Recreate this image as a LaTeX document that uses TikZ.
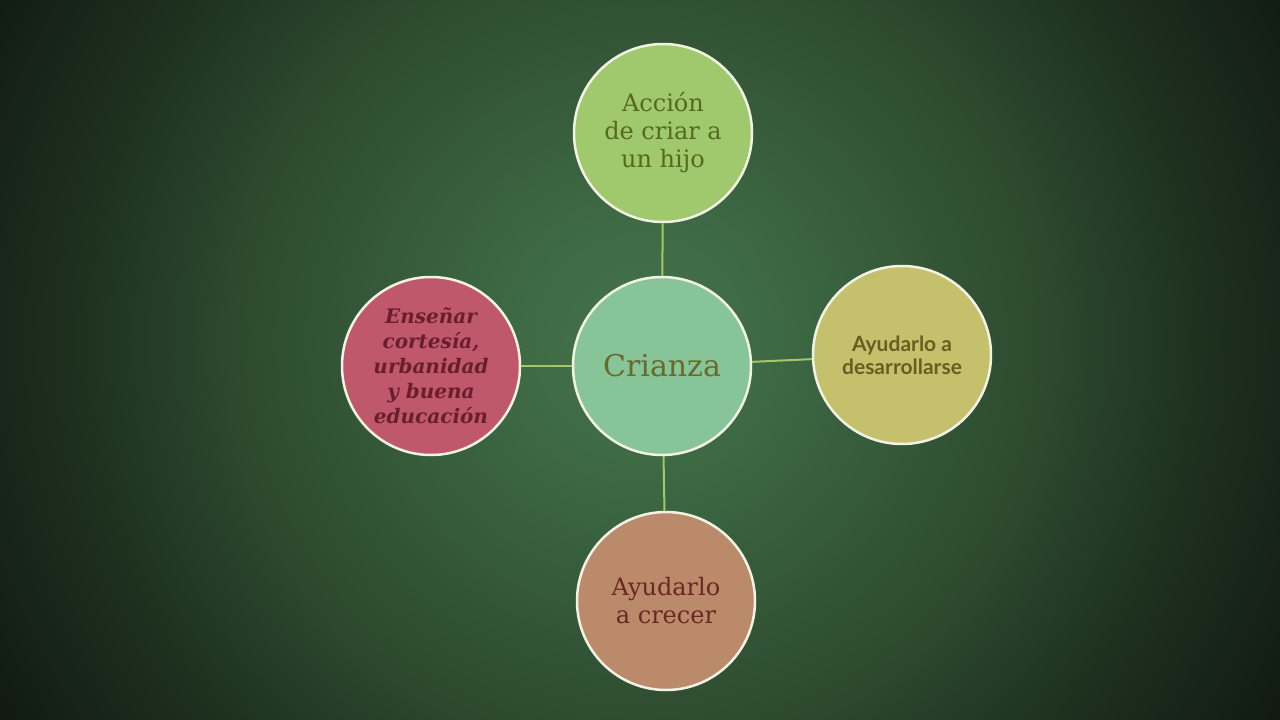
\documentclass[tikz,border=0pt]{standalone}
\usepackage{fontspec}
\setmainfont{DejaVu Serif}
\newfontfamily\sansf{Lato}
\definecolor{bg0}{HTML}{45744B}
\definecolor{bg1}{HTML}{3C6742}
\definecolor{bg2}{HTML}{2D4A2F}
\definecolor{bg3}{HTML}{1E311F}
\definecolor{bg4}{HTML}{111B11}
\definecolor{rimc}{HTML}{F2F2E4}
\definecolor{linkc}{HTML}{A4C66C}
\definecolor{topF}{HTML}{A0C86C}
\definecolor{topT}{HTML}{55691F}
\definecolor{midF}{HTML}{87C498}
\definecolor{midT}{HTML}{686A2C}
\definecolor{rgtF}{HTML}{C4C06C}
\definecolor{rgtT}{HTML}{665F22}
\definecolor{botF}{HTML}{BA8A6B}
\definecolor{botT}{HTML}{6A2820}
\definecolor{lftF}{HTML}{C0586B}
\definecolor{lftT}{HTML}{6A1E2C}
\pgfdeclareradialshading{bgshade}{\pgfpoint{0bp}{0bp}}{color(0bp)=(bg0); color(4.7bp)=(bg1); color(12.5bp)=(bg2); color(17.5bp)=(bg3); color(23bp)=(bg4); color(50bp)=(bg4)}
\begin{document}
\begin{tikzpicture}[x=1pt,y=-1pt,
  bubble/.style={circle, draw=rimc, line width=2.5pt, minimum size=178pt, inner sep=0pt, align=center},
  link/.style={draw=linkc, line width=2pt}]
\useasboundingbox (0,0) rectangle (1280,720);
\begin{scope}
\clip (0,0) rectangle (1280,720);
\shade[shading=bgshade] (-160,-460) rectangle (1440,1140);
\end{scope}
\node[bubble, fill=midF, text=midT, font=\fontsize{30}{34}\selectfont] (mid) at (662,366) {Crianza};
\node[bubble, fill=topF, text=topT, font=\fontsize{24}{28}\selectfont] (top) at (663,133) {Acción\\de criar a\\un hijo};
\node[bubble, fill=rgtF, text=rgtT, font=\sansf\bfseries\fontsize{21}{23}\selectfont] (rgt) at (902,355) {Ayudarlo a\\desarrollarse};
\node[bubble, fill=botF, text=botT, font=\fontsize{24}{28}\selectfont] (bot) at (666,601) {Ayudarlo\\a crecer};
\node[bubble, fill=lftF, text=lftT, font=\bfseries\itshape\fontsize{20}{25}\selectfont] (lft) at (431,366) {Enseñar\\cortesía,\\urbanidad\\y buena\\educación};
\draw[link] (mid) -- (top);
\draw[link] (mid) -- (rgt);
\draw[link] (mid) -- (bot);
\draw[link] (mid) -- (lft);
\end{tikzpicture}
\end{document}
